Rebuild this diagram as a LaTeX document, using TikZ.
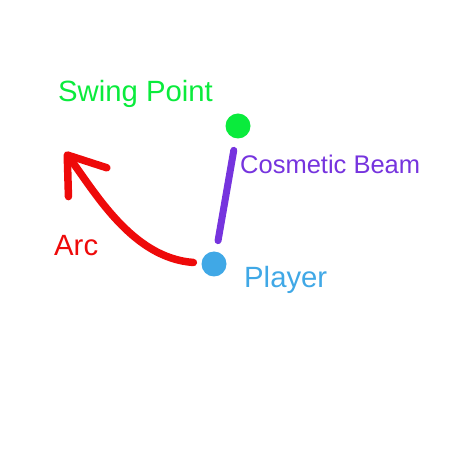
\documentclass[tikz,border=0pt]{standalone}
\usepackage{fontspec}
\setmainfont{Liberation Sans}
\usepackage{xcolor}
\usepackage{tikz}
\usetikzlibrary{arrows.meta,positioning}
\definecolor{verde}{RGB}{10,235,60}
\definecolor{roxo}{RGB}{118,52,222}
\definecolor{azul}{RGB}{64,168,230}
\definecolor{vermelho}{RGB}{238,10,10}
\tikzset{
    marcador/.style={
        circle,
        inner sep=0pt,
        minimum size=25pt
    },
    rotulo/.style={
        inner sep=0pt,
        anchor=base west,
        font=\fontsize{29.3}{31}\selectfont
    },
    feixe/.style={roxo, line width=7pt, line cap=round},
    arco/.style={
        vermelho,
        line width=7.5pt,
        line cap=round,
        line join=round,
        -{Straight Barb[length=34pt, width=48pt, line cap=round, line join=round]}
    }
}

\begin{document}
\begin{tikzpicture}[x=1pt, y=1pt]
        \useasboundingbox (0,0) rectangle (474,474);

        \node[marcador, fill=verde] (ponto) at (238,348) {};
        \node[marcador, fill=azul] (jogador) at (214,210) {};
        \coordinate (ponta) at (65,322);

        \node[rotulo, verde] (txtPonto) at (58,372) {Swing Point};
        \node[rotulo, roxo, font=\fontsize{25.5}{27}\selectfont] (txtFeixe) at (240,300) {Cosmetic Beam};
        \node[rotulo, azul] (txtJogador) at (244,186) {Player};
        \node[rotulo, vermelho] (txtArco) at (54,218) {Arc};

        \draw[feixe, shorten <=12pt, shorten >=11pt] (ponto) -- (jogador);
        \draw[arco, shorten <=8pt] (jogador) .. controls (132,216) and (95,282) .. (ponta);
    \end{tikzpicture}
\end{document}
